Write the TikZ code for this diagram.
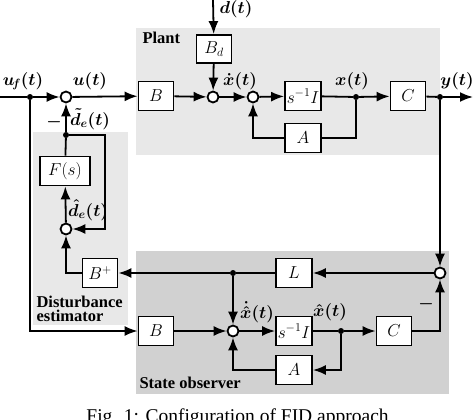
\documentclass[tikz,border=0pt]{standalone}
\usepackage{fontspec}
\setmainfont{Liberation Serif}
\usepackage{amsmath}
\usetikzlibrary{arrows.meta}
\definecolor{plantbg}{gray}{.91}
\definecolor{obsbg}{gray}{.82}

\tikzset{
	blk/.style={draw, line width=1.8pt, fill=white, inner sep=0pt, minimum width=35pt, minimum height=29pt, font=\fontsize{18.5}{20}\selectfont},
	sumj/.style={draw, circle, line width=1.8pt, fill=white, inner sep=0pt, minimum size=11pt},
	jdot/.style={circle, fill, inner sep=0pt, minimum size=6pt},
	sig/.style={font=\fontsize{17}{19}\selectfont\boldmath},
	lbl/.style={font=\fontsize{16.5}{18}\selectfont\bfseries},
	wire/.style={line width=1.8pt, -{Latex[length=13pt,width=10pt]}},
	bare/.style={line width=1.8pt},
}

\begin{document}
\begin{tikzpicture}[x=1pt, y=-1pt]
	\useasboundingbox (0,0) rectangle (474,420);

	% shaded regions
	\fill[plantbg] (136,28) rectangle (440,155);
	\fill[plantbg] (33,132) rectangle (128,325);
	\fill[obsbg] (136,251) rectangle (449,394);
	\node[lbl, anchor=west] at (139,38) {Plant};
	\node[lbl, anchor=west, align=left] at (33,309) {Disturbance\\[-4pt]estimator};
	\node[lbl, anchor=west] at (136,383) {State observer};

	% plant
	\coordinate (in) at (0,97);
	\coordinate (out) at (473,97);
	\coordinate (din) at (213,0);
	\node[jdot] (uf) at (30,97) {};
	\node[sumj] (s1) at (66,97) {};
	\node[blk] (B) at (156,96) {$B$};
	\node[blk, minimum height=28pt] (Bd) at (214,49) {$B_d$};
	\node[sumj] (s2) at (213,97) {};
	\node[sumj] (s3) at (253,97) {};
	\node[blk, minimum width=36pt] (sI) at (303,96) {$s^{-1}I$};
	\node[jdot] (xd) at (356,97) {};
	\node[blk] (C) at (408,96) {$C$};
	\node[jdot] (yd) at (440,97) {};
	\node[blk, minimum width=36pt] (A) at (303,138) {$A$};

	\draw[bare] (in) -- (uf);
	\draw[wire] (uf) -- (s1);
	\draw[wire] (s1) -- (B);
	\draw[wire] (B) -- (s2);
	\draw[wire] (din) -- (Bd);
	\draw[wire] (Bd) -- (s2);
	\draw[wire] (s2) -- (s3);
	\draw[wire] (s3) -- (sI);
	\draw[bare] (sI) -- (xd);
	\draw[wire] (xd) -- (C);
	\draw[bare] (C) -- (yd);
	\draw[wire] (yd) -- (out);
	\draw[bare] (xd) |- (A);
	\draw[wire] (A) -| (s3);

	\node[sig] at (23,81) {$u_{\!f}(t)$};
	\node[sig] at (90,81) {$u(t)$};
	\node[sig] at (236,9) {$d(t)$};
	\node[sig] at (240,81) {$\dot{x}(t)$};
	\node[sig] at (352,81) {$x(t)$};
	\node[sig] at (457,81) {$y(t)$};

	% disturbance estimator
	\node[jdot] (de) at (66,135) {};
	\node[blk, minimum width=50pt] (F) at (65,171) {$F(s)$};
	\node[sumj] (s4) at (66,229) {};
	\node[blk] (Bp) at (100,273) {$B^+$};
	\coordinate (lp) at (105,135);

	\draw[bare] (F) -- (de);
	\draw[wire] (de) -- (s1);
	\draw[wire] (de) -- (lp) |- (s4);
	\draw[wire] (s4) -- (F);
	\draw[wire] (Bp) -| (s4);

	\node[sig] at (90,119) {$\tilde{d}_e(t)$};
	\node[sig] at (88,210) {$\hat{d}_e(t)$};
	\node[sig] at (54,122) {$-$};

	% state observer
	\node[blk] (Bo) at (156,331) {$B$};
	\node[sumj] (so) at (233,331) {};
	\node[blk, minimum width=36pt] (sIo) at (294,331) {$s^{-1}I$};
	\node[jdot] (xh) at (341,331) {};
	\node[blk] (Co) at (394,331) {$C$};
	\node[blk, minimum width=36pt] (Ao) at (294,370) {$A$};
	\node[blk, minimum width=36pt] (L) at (294,273) {$L$};
	\node[sumj] (se) at (440,273) {};
	\node[jdot] (lj) at (233,273) {};

	\draw[wire] (uf) |- (Bo);
	\draw[wire] (Bo) -- (so);
	\draw[wire] (so) -- (sIo);
	\draw[bare] (sIo) -- (xh);
	\draw[wire] (xh) -- (Co);
	\draw[wire] (Co) -| (se);
	\draw[wire] (xh) |- (Ao);
	\draw[wire] (Ao) -| (so);
	\draw[wire] (yd) -- (se);
	\draw[wire] (se) -- (L);
	\draw[bare] (L) -- (lj);
	\draw[wire] (lj) -- (so);
	\draw[wire] (lj) -- (Bp);

	\node[sig] at (257,312) {$\dot{\hat{x}}(t)$};
	\node[sig] at (330,312) {$\hat{x}(t)$};
	\node[sig] at (426,304) {$-$};

	% caption
	\node[anchor=north, font=\fontsize{19.5}{22}\selectfont] at (240,405) {Fig. 1: Configuration of FID approach.};
\end{tikzpicture}
\end{document}
